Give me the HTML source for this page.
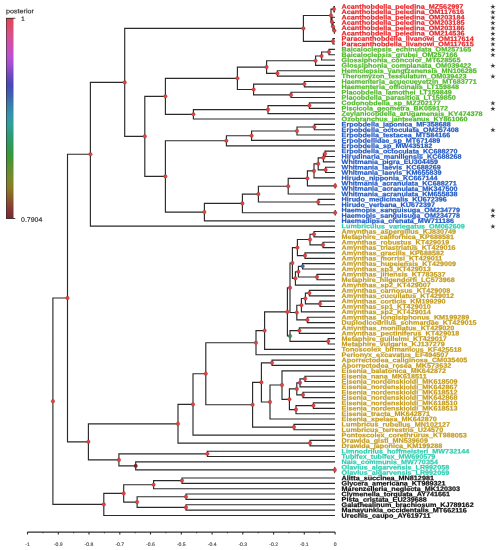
<!DOCTYPE html>
<html><head><meta charset="utf-8"><title>tree</title>
<style>
html,body{margin:0;padding:0;background:#fff}
svg{display:block;text-rendering:geometricPrecision}
.l{font-family:"Liberation Sans",Arial,Helvetica,sans-serif;font-weight:bold;font-size:6.5px;stroke-width:0.2}
.a{font-family:"Liberation Sans",Arial,Helvetica,sans-serif;font-size:5.1px;fill:#505050;stroke:#505050;stroke-width:0.15;text-anchor:middle}
.s{font-family:"DejaVu Sans",sans-serif;font-size:7px;fill:#3a3a3a;text-anchor:middle}
.t{font-family:"Liberation Sans",Arial,Helvetica,sans-serif;fill:#2a2a2a;stroke:#2a2a2a;stroke-width:0.15}
</style></head><body>
<svg width="500" height="550" viewBox="0 0 500 550">
<rect width="500" height="550" fill="#fff"/>
<defs><linearGradient id="lg" x1="0" y1="0" x2="0" y2="1">
<stop offset="0" stop-color="#e0464f"/><stop offset="0.01" stop-color="#e04858"/><stop offset="0.085" stop-color="#d8508c"/><stop offset="0.185" stop-color="#c050d0"/><stop offset="0.235" stop-color="#a050d0"/><stop offset="0.285" stop-color="#7048c0"/><stop offset="0.335" stop-color="#4848b8"/><stop offset="0.385" stop-color="#4060b0"/><stop offset="0.435" stop-color="#3880a8"/><stop offset="0.485" stop-color="#3494ac"/><stop offset="0.535" stop-color="#30a098"/><stop offset="0.585" stop-color="#309a78"/><stop offset="0.635" stop-color="#30985a"/><stop offset="0.685" stop-color="#389838"/><stop offset="0.735" stop-color="#5a9030"/><stop offset="0.8" stop-color="#7a8a2a"/><stop offset="0.85" stop-color="#8a7a28"/><stop offset="0.9" stop-color="#8a5a2a"/><stop offset="0.95" stop-color="#883838"/><stop offset="1" stop-color="#7a2830"/></linearGradient></defs>
<rect x="6.2" y="18" width="7.3" height="200.6" fill="url(#lg)"/>
<path d="M6.5 18V219" stroke="#000" stroke-opacity="0.55" stroke-width="0.9" fill="none"/>
<path d="M6 18.3H15.3M6 218.5H15.3" stroke="#2a2a2a" stroke-width="0.85" fill="none"/>
<g transform="translate(0 -0.2) skewY(0.03)">
<text class="t" transform="translate(6 13.35) scale(1.105 1)" font-size="6.5">posterior</text>
<text class="t" transform="translate(21 21.1) scale(1.1 1)" font-size="6.3">1</text>
<text class="t" transform="translate(21 221.9) scale(1.11 1)" font-size="6.3">0.7904</text>
</g>
<path d="M334.0 9.1V6.5H335.0M334.0 9.1V11.8H335.0M334.4 30.6V27.9H335.0M334.4 30.6V33.2H335.0M333.0 26.5V22.5H335.0M333.0 26.5V30.6H334.4M332.0 21.9V17.2H335.0M332.0 21.9V26.5H333.0M331.0 15.5V9.1H334.0M331.0 15.5V21.9H332.0M333.0 41.3V38.6H335.0M333.0 41.3V44.0H335.0M303.4 28.4V15.5H331.0M303.4 28.4V41.3H333.0M329.0 52.0V49.3H335.0M329.0 52.0V54.7H335.0M321.6 56.0V52.0H329.0M321.6 56.0V60.0H335.0M315.6 60.7V56.0H321.6M315.6 60.7V65.4H335.0M277.4 73.4V70.7H335.0M277.4 73.4V76.1H335.0M266.6 67.1V60.7H315.6M266.6 67.1V73.4H277.4M304.4 84.1V81.5H335.0M304.4 84.1V86.8H335.0M291.0 94.9V92.2H335.0M291.0 94.9V97.5H335.0M253.6 89.5V84.1H304.4M253.6 89.5V94.9H291.0M237.4 78.3V67.1H266.6M237.4 78.3V89.5H253.6M309.4 105.6V102.9H335.0M309.4 105.6V108.3H335.0M268.0 109.6V105.6H309.4M268.0 109.6V113.6H335.0M193.4 114.3V109.6H268.0M193.4 114.3V119.0H335.0M165.4 96.3V78.3H237.4M165.4 96.3V114.3H193.4M314.4 127.0V124.3H335.0M314.4 127.0V129.7H335.0M297.0 131.0V127.0H314.4M297.0 131.0V135.0H335.0M251.6 135.7V131.0H297.0M251.6 135.7V140.4H335.0M226.4 140.7V135.7H251.6M226.4 140.7V145.8H335.0M325.0 153.8V151.1H335.0M325.0 153.8V156.5H335.0M323.4 157.8V153.8H325.0M323.4 157.8V161.8H335.0M325.6 169.9V167.2H335.0M325.6 169.9V172.5H335.0M318.2 163.8V157.8H323.4M318.2 163.8V169.9H325.6M314.0 170.9V163.8H318.2M314.0 170.9V177.9H335.0M335.2 185.9V183.3M335.2 185.9V188.6M307.4 178.4V170.9H314.0M307.4 178.4V185.9H335.2M288.2 186.2V178.4H307.4M288.2 186.2V194.0H335.0M318.2 202.0V199.3H335.0M318.2 202.0V204.7H335.0M258.4 194.1V186.2H288.2M258.4 194.1V202.0H318.2M335.2 212.7V210.1M335.2 212.7V215.4M242.4 203.4V194.1H258.4M242.4 203.4V212.7H335.2M204.4 212.1V203.4H242.4M204.4 212.1V220.8H335.0M165.4 176.4V140.7H226.4M165.4 176.4V212.1H204.4M144.8 136.3V96.3H165.4M144.8 136.3V176.4H165.4M124.7 82.4V28.4H303.4M124.7 82.4V136.3H144.8M90.4 154.2V82.4H124.7M90.4 154.2V226.1H335.0M314.0 234.2V231.5H335.0M314.0 234.2V236.8H335.0M323.0 244.9V242.2H335.0M323.0 244.9V247.6H335.0M310.0 239.5V234.2H314.0M310.0 239.5V244.9H323.0M305.0 255.6V252.9H335.0M305.0 255.6V258.3H335.0M297.4 247.6V239.5H310.0M297.4 247.6V255.6H305.0M302.6 266.3V263.6H335.0M302.6 266.3V269.0H335.0M317.0 277.0V274.3H335.0M317.0 277.0V279.7H335.0M298.4 271.7V266.3H302.6M298.4 271.7V277.0H317.0M295.4 278.4V271.7H298.4M295.4 278.4V285.1H335.0M292.4 263.0V247.6H297.4M292.4 263.0V278.4H295.4M309.4 293.1V290.4H335.0M309.4 293.1V295.8H335.0M320.0 303.8V301.1H335.0M320.0 303.8V306.5H335.0M305.4 298.5V293.1H309.4M305.4 298.5V303.8H320.0M301.4 305.2V298.5H305.4M301.4 305.2V311.9H335.0M307.4 319.9V317.2H335.0M307.4 319.9V322.6H335.0M296.8 312.5V305.2H301.4M296.8 312.5V319.9H307.4M290.0 287.7V263.0H292.4M290.0 287.7V312.5H296.8M299.4 330.6V327.9H335.0M299.4 330.6V333.3H335.0M328.2 341.3V338.6H335.0M328.2 341.3V344.0H335.0M290.0 336.0V330.6H299.4M290.0 336.0V341.3H328.2M287.4 311.9V287.7H290.0M287.4 311.9V336.0H290.0M264.6 330.6V311.9H287.4M264.6 330.6V349.4H335.0M256.0 342.7V330.6H264.6M256.0 342.7V354.7H335.0M272.0 362.8V360.1H335.0M272.0 362.8V365.4H335.0M305.0 378.8V376.2H335.0M305.0 378.8V381.5H335.0M300.0 382.8V378.8H305.0M300.0 382.8V386.9H335.0M303.0 394.9V392.2H335.0M303.0 394.9V397.6H335.0M296.8 388.9V382.8H300.0M296.8 388.9V394.9H303.0M313.4 405.6V402.9H335.0M313.4 405.6V408.3H335.0M296.0 409.6V405.6H313.4M296.0 409.6V413.7H335.0M289.4 399.3V388.9H296.8M289.4 399.3V409.6H296.0M282.0 385.0V370.8H335.0M282.0 385.0V399.3H289.4M270.0 402.0V385.0H282.0M270.0 402.0V419.0H335.0M261.4 382.4V362.8H272.0M261.4 382.4V402.0H270.0M294.0 427.1V424.4H335.0M294.0 427.1V429.7H335.0M252.6 404.7V382.4H261.4M252.6 404.7V427.1H294.0M205.8 373.7V342.7H256.0M205.8 373.7V404.7H252.6M193.0 404.4V373.7H205.8M193.0 404.4V435.1H335.0M310.0 443.1V440.4H335.0M310.0 443.1V445.8H335.0M178.0 423.8V404.4H193.0M178.0 423.8V443.1H310.0M207.4 453.8V451.2H335.0M207.4 453.8V456.5H335.0M334.8 469.9V467.2H335.0M334.8 469.9V472.6H335.0M135.7 465.9V461.9H335.0M135.7 465.9V469.9H334.8M118.9 459.9V453.8H207.4M118.9 459.9V465.9H135.7M88.4 441.8V423.8H178.0M88.4 441.8V459.9H118.9M67.5 298.0V154.2H90.4M67.5 298.0V441.8H88.4M182.0 480.6V478.0H335.0M182.0 480.6V483.3H335.0M153.6 484.7V480.6H182.0M153.6 484.7V488.7H335.0M186.0 496.7V494.0H335.0M186.0 496.7V499.4H335.0M186.0 507.4V504.7H335.0M186.0 507.4V510.1H335.0M137.1 502.1V496.7H186.0M137.1 502.1V507.4H186.0M123.7 493.4V484.7H153.6M123.7 493.4V502.1H137.1M103.8 504.4V493.4H123.7M103.8 504.4V515.5H335.0M52.9 401.2V298.0H67.5M52.9 401.2V504.4H103.8" stroke="#2a2a2a" stroke-width="1.15" fill="none" stroke-linejoin="miter"/>
<circle cx="334.0" cy="9.1" r="1.8" fill="#e8413f" stroke="#7a2a2a" stroke-width="0.3"/><circle cx="334.4" cy="30.6" r="1.8" fill="#e8413f" stroke="#7a2a2a" stroke-width="0.3"/><circle cx="333.0" cy="26.5" r="1.8" fill="#e8413f" stroke="#7a2a2a" stroke-width="0.3"/><circle cx="332.0" cy="21.9" r="1.8" fill="#e8413f" stroke="#7a2a2a" stroke-width="0.3"/><circle cx="331.0" cy="15.5" r="1.8" fill="#e8413f" stroke="#7a2a2a" stroke-width="0.3"/><circle cx="333.0" cy="41.3" r="1.8" fill="#e8413f" stroke="#7a2a2a" stroke-width="0.3"/><circle cx="303.4" cy="28.4" r="1.8" fill="#e8413f" stroke="#7a2a2a" stroke-width="0.3"/><circle cx="329.0" cy="52.0" r="1.8" fill="#e8413f" stroke="#7a2a2a" stroke-width="0.3"/><circle cx="321.6" cy="56.0" r="1.8" fill="#e8413f" stroke="#7a2a2a" stroke-width="0.3"/><circle cx="315.6" cy="60.7" r="1.8" fill="#e8413f" stroke="#7a2a2a" stroke-width="0.3"/><circle cx="277.4" cy="73.4" r="1.8" fill="#e8413f" stroke="#7a2a2a" stroke-width="0.3"/><circle cx="266.6" cy="67.1" r="1.8" fill="#e8413f" stroke="#7a2a2a" stroke-width="0.3"/><circle cx="304.4" cy="84.1" r="1.8" fill="#e8413f" stroke="#7a2a2a" stroke-width="0.3"/><circle cx="291.0" cy="94.9" r="1.8" fill="#e8413f" stroke="#7a2a2a" stroke-width="0.3"/><circle cx="253.6" cy="89.5" r="1.8" fill="#e8413f" stroke="#7a2a2a" stroke-width="0.3"/><circle cx="237.4" cy="78.3" r="1.8" fill="#e8413f" stroke="#7a2a2a" stroke-width="0.3"/><circle cx="309.4" cy="105.6" r="1.8" fill="#e8413f" stroke="#7a2a2a" stroke-width="0.3"/><circle cx="268.0" cy="109.6" r="1.8" fill="#e8413f" stroke="#7a2a2a" stroke-width="0.3"/><circle cx="193.4" cy="114.3" r="1.8" fill="#e8413f" stroke="#7a2a2a" stroke-width="0.3"/><circle cx="165.4" cy="96.3" r="1.8" fill="#e8413f" stroke="#7a2a2a" stroke-width="0.3"/><circle cx="314.4" cy="127.0" r="1.8" fill="#e8413f" stroke="#7a2a2a" stroke-width="0.3"/><circle cx="297.0" cy="131.0" r="1.8" fill="#e8413f" stroke="#7a2a2a" stroke-width="0.3"/><circle cx="251.6" cy="135.7" r="1.8" fill="#e8413f" stroke="#7a2a2a" stroke-width="0.3"/><circle cx="226.4" cy="140.7" r="1.8" fill="#e8413f" stroke="#7a2a2a" stroke-width="0.3"/><circle cx="325.0" cy="153.8" r="1.8" fill="#e8413f" stroke="#7a2a2a" stroke-width="0.3"/><circle cx="323.4" cy="157.8" r="1.8" fill="#e8413f" stroke="#7a2a2a" stroke-width="0.3"/><circle cx="325.6" cy="169.9" r="1.8" fill="#e8413f" stroke="#7a2a2a" stroke-width="0.3"/><circle cx="318.2" cy="163.8" r="1.8" fill="#e8413f" stroke="#7a2a2a" stroke-width="0.3"/><circle cx="314.0" cy="170.9" r="1.8" fill="#e8413f" stroke="#7a2a2a" stroke-width="0.3"/><circle cx="335.2" cy="185.9" r="1.8" fill="#e8413f" stroke="#7a2a2a" stroke-width="0.3"/><circle cx="307.4" cy="178.4" r="1.8" fill="#e8413f" stroke="#7a2a2a" stroke-width="0.3"/><circle cx="288.2" cy="186.2" r="1.8" fill="#e8413f" stroke="#7a2a2a" stroke-width="0.3"/><circle cx="318.2" cy="202.0" r="1.8" fill="#e8413f" stroke="#7a2a2a" stroke-width="0.3"/><circle cx="258.4" cy="194.1" r="1.8" fill="#e8413f" stroke="#7a2a2a" stroke-width="0.3"/><circle cx="335.2" cy="212.7" r="1.8" fill="#e8413f" stroke="#7a2a2a" stroke-width="0.3"/><circle cx="242.4" cy="203.4" r="1.8" fill="#e8413f" stroke="#7a2a2a" stroke-width="0.3"/><circle cx="204.4" cy="212.1" r="1.8" fill="#e8502a" stroke="#7a2a2a" stroke-width="0.3"/><circle cx="165.4" cy="176.4" r="1.8" fill="#e8413f" stroke="#7a2a2a" stroke-width="0.3"/><circle cx="144.8" cy="136.3" r="1.8" fill="#e8413f" stroke="#7a2a2a" stroke-width="0.3"/><circle cx="124.7" cy="82.4" r="1.8" fill="#e8413f" stroke="#7a2a2a" stroke-width="0.3"/><circle cx="90.4" cy="154.2" r="1.8" fill="#e8413f" stroke="#7a2a2a" stroke-width="0.3"/><circle cx="314.0" cy="234.2" r="1.8" fill="#e8413f" stroke="#7a2a2a" stroke-width="0.3"/><circle cx="323.0" cy="244.9" r="1.8" fill="#e8413f" stroke="#7a2a2a" stroke-width="0.3"/><circle cx="310.0" cy="239.5" r="1.8" fill="#e8413f" stroke="#7a2a2a" stroke-width="0.3"/><circle cx="305.0" cy="255.6" r="1.8" fill="#e8413f" stroke="#7a2a2a" stroke-width="0.3"/><circle cx="297.4" cy="247.6" r="1.8" fill="#e8413f" stroke="#7a2a2a" stroke-width="0.3"/><circle cx="302.6" cy="266.3" r="1.8" fill="#2f73c4" stroke="#7a2a2a" stroke-width="0.3"/><circle cx="317.0" cy="277.0" r="1.8" fill="#e8413f" stroke="#7a2a2a" stroke-width="0.3"/><circle cx="298.4" cy="271.7" r="1.8" fill="#e8413f" stroke="#7a2a2a" stroke-width="0.3"/><circle cx="295.4" cy="278.4" r="1.8" fill="#e8413f" stroke="#7a2a2a" stroke-width="0.3"/><circle cx="292.4" cy="263.0" r="1.8" fill="#e8413f" stroke="#7a2a2a" stroke-width="0.3"/><circle cx="309.4" cy="293.1" r="1.8" fill="#e8413f" stroke="#7a2a2a" stroke-width="0.3"/><circle cx="320.0" cy="303.8" r="1.8" fill="#e8413f" stroke="#7a2a2a" stroke-width="0.3"/><circle cx="305.4" cy="298.5" r="1.8" fill="#e8413f" stroke="#7a2a2a" stroke-width="0.3"/><circle cx="301.4" cy="305.2" r="1.8" fill="#e8413f" stroke="#7a2a2a" stroke-width="0.3"/><circle cx="307.4" cy="319.9" r="1.8" fill="#e8413f" stroke="#7a2a2a" stroke-width="0.3"/><circle cx="296.8" cy="312.5" r="1.8" fill="#e8413f" stroke="#7a2a2a" stroke-width="0.3"/><circle cx="290.0" cy="287.7" r="1.8" fill="#e8365f" stroke="#7a2a2a" stroke-width="0.3"/><circle cx="299.4" cy="330.6" r="1.8" fill="#e8413f" stroke="#7a2a2a" stroke-width="0.3"/><circle cx="328.2" cy="341.3" r="1.8" fill="#e8413f" stroke="#7a2a2a" stroke-width="0.3"/><circle cx="290.0" cy="336.0" r="1.8" fill="#1f9a5e" stroke="#7a2a2a" stroke-width="0.3"/><circle cx="287.4" cy="311.9" r="1.8" fill="#e8413f" stroke="#7a2a2a" stroke-width="0.3"/><circle cx="264.6" cy="330.6" r="1.8" fill="#e8413f" stroke="#7a2a2a" stroke-width="0.3"/><circle cx="256.0" cy="342.7" r="1.8" fill="#e8413f" stroke="#7a2a2a" stroke-width="0.3"/><circle cx="272.0" cy="362.8" r="1.8" fill="#e8413f" stroke="#7a2a2a" stroke-width="0.3"/><circle cx="305.0" cy="378.8" r="1.8" fill="#e8413f" stroke="#7a2a2a" stroke-width="0.3"/><circle cx="300.0" cy="382.8" r="1.8" fill="#d9376f" stroke="#7a2a2a" stroke-width="0.3"/><circle cx="303.0" cy="394.9" r="1.8" fill="#e8413f" stroke="#7a2a2a" stroke-width="0.3"/><circle cx="296.8" cy="388.9" r="1.8" fill="#e8413f" stroke="#7a2a2a" stroke-width="0.3"/><circle cx="313.4" cy="405.6" r="1.8" fill="#e8413f" stroke="#7a2a2a" stroke-width="0.3"/><circle cx="296.0" cy="409.6" r="1.8" fill="#e8413f" stroke="#7a2a2a" stroke-width="0.3"/><circle cx="289.4" cy="399.3" r="1.8" fill="#e8413f" stroke="#7a2a2a" stroke-width="0.3"/><circle cx="282.0" cy="385.0" r="1.8" fill="#e8413f" stroke="#7a2a2a" stroke-width="0.3"/><circle cx="270.0" cy="402.0" r="1.8" fill="#e8413f" stroke="#7a2a2a" stroke-width="0.3"/><circle cx="261.4" cy="382.4" r="1.8" fill="#e8413f" stroke="#7a2a2a" stroke-width="0.3"/><circle cx="294.0" cy="427.1" r="1.8" fill="#e8413f" stroke="#7a2a2a" stroke-width="0.3"/><circle cx="252.6" cy="404.7" r="1.8" fill="#e8413f" stroke="#7a2a2a" stroke-width="0.3"/><circle cx="205.8" cy="373.7" r="1.8" fill="#e8413f" stroke="#7a2a2a" stroke-width="0.3"/><circle cx="193.0" cy="404.4" r="1.8" fill="#e8413f" stroke="#7a2a2a" stroke-width="0.3"/><circle cx="310.0" cy="443.1" r="1.8" fill="#e8413f" stroke="#7a2a2a" stroke-width="0.3"/><circle cx="178.0" cy="423.8" r="1.8" fill="#e8413f" stroke="#7a2a2a" stroke-width="0.3"/><circle cx="207.4" cy="453.8" r="1.8" fill="#e8413f" stroke="#7a2a2a" stroke-width="0.3"/><circle cx="334.8" cy="469.9" r="1.8" fill="#e8413f" stroke="#7a2a2a" stroke-width="0.3"/><circle cx="135.7" cy="465.9" r="1.8" fill="#7a1f26" stroke="#7a2a2a" stroke-width="0.3"/><circle cx="118.9" cy="459.9" r="1.8" fill="#e8413f" stroke="#7a2a2a" stroke-width="0.3"/><circle cx="88.4" cy="441.8" r="1.8" fill="#e8413f" stroke="#7a2a2a" stroke-width="0.3"/><circle cx="67.5" cy="298.0" r="1.8" fill="#e8413f" stroke="#7a2a2a" stroke-width="0.3"/><circle cx="182.0" cy="480.6" r="1.8" fill="#e8413f" stroke="#7a2a2a" stroke-width="0.3"/><circle cx="153.6" cy="484.7" r="1.8" fill="#e8413f" stroke="#7a2a2a" stroke-width="0.3"/><circle cx="186.0" cy="496.7" r="1.8" fill="#e8413f" stroke="#7a2a2a" stroke-width="0.3"/><circle cx="186.0" cy="507.4" r="1.8" fill="#e8413f" stroke="#7a2a2a" stroke-width="0.3"/><circle cx="137.1" cy="502.1" r="1.8" fill="#e8413f" stroke="#7a2a2a" stroke-width="0.3"/><circle cx="123.7" cy="493.4" r="1.8" fill="#e8413f" stroke="#7a2a2a" stroke-width="0.3"/><circle cx="103.8" cy="504.4" r="1.8" fill="#e8413f" stroke="#7a2a2a" stroke-width="0.3"/><circle cx="52.9" cy="401.2" r="1.8" fill="#e8413f" stroke="#7a2a2a" stroke-width="0.3"/>
<g transform="translate(0 -0.2) skewY(0.03)">
<text class="l" transform="translate(341.6 8.70) scale(1.111 1)" fill="#e8262a" stroke="#e8262a">Acanthobdella_peledina_MZ562997</text>
<text class="l" transform="translate(341.6 14.06) scale(1.111 1)" fill="#e8262a" stroke="#e8262a">Acanthobdella_peledina_OM117616</text>
<text class="l" transform="translate(341.6 19.42) scale(1.111 1)" fill="#e8262a" stroke="#e8262a">Acanthobdella_peledina_OM203184</text>
<text class="l" transform="translate(341.6 24.77) scale(1.111 1)" fill="#e8262a" stroke="#e8262a">Acanthobdella_peledina_OM203185</text>
<text class="l" transform="translate(341.6 30.13) scale(1.111 1)" fill="#e8262a" stroke="#e8262a">Acanthobdella_peledina_OM203186</text>
<text class="l" transform="translate(341.6 35.49) scale(1.111 1)" fill="#e8262a" stroke="#e8262a">Acanthobdella_peledina_OM214536</text>
<text class="l" transform="translate(341.6 40.85) scale(1.111 1)" fill="#e8262a" stroke="#e8262a">Paracanthobdella_livanowi_OM117614</text>
<text class="l" transform="translate(341.6 46.21) scale(1.111 1)" fill="#e8262a" stroke="#e8262a">Paracanthobdella_livanowi_OM117615</text>
<text class="l" transform="translate(341.6 51.56) scale(1.111 1)" fill="#50b92a" stroke="#50b92a">Baicaloclepsis_echinulata_OM257165</text>
<text class="l" transform="translate(341.6 56.92) scale(1.111 1)" fill="#50b92a" stroke="#50b92a">Baicaloclepsis_grubei_OM257166</text>
<text class="l" transform="translate(341.6 62.28) scale(1.111 1)" fill="#50b92a" stroke="#50b92a">Glossiphonia_concolor_MT628565</text>
<text class="l" transform="translate(341.6 67.64) scale(1.111 1)" fill="#50b92a" stroke="#50b92a">Glossiphonia_complanata_OM039422</text>
<text class="l" transform="translate(341.6 73.00) scale(1.111 1)" fill="#50b92a" stroke="#50b92a">Hemiclepsis_yangtzenensis_MN106285</text>
<text class="l" transform="translate(341.6 78.35) scale(1.111 1)" fill="#50b92a" stroke="#50b92a">Theromyzon_tessulatum_OM039423</text>
<text class="l" transform="translate(341.6 83.71) scale(1.111 1)" fill="#50b92a" stroke="#50b92a">Haementeria_acuecueyetzin_MT683771</text>
<text class="l" transform="translate(341.6 89.07) scale(1.111 1)" fill="#50b92a" stroke="#50b92a">Haementeria_officinalis_LT159848</text>
<text class="l" transform="translate(341.6 94.43) scale(1.111 1)" fill="#50b92a" stroke="#50b92a">Placobdella_lamothei_LT159849</text>
<text class="l" transform="translate(341.6 99.79) scale(1.111 1)" fill="#50b92a" stroke="#50b92a">Placobdella_parasitica_LT159850</text>
<text class="l" transform="translate(341.6 105.14) scale(1.111 1)" fill="#50b92a" stroke="#50b92a">Codonobdella_sp_MZ202177</text>
<text class="l" transform="translate(341.6 110.50) scale(1.111 1)" fill="#50b92a" stroke="#50b92a">Piscicola_geometra_BK059172</text>
<text class="l" transform="translate(341.6 115.86) scale(1.111 1)" fill="#50b92a" stroke="#50b92a">Zeylanicobdella_arugamensis_KY474378</text>
<text class="l" transform="translate(341.6 121.22) scale(1.111 1)" fill="#50b92a" stroke="#50b92a">Ozobranchus_jantseanus_KY861060</text>
<text class="l" transform="translate(341.6 126.58) scale(1.111 1)" fill="#2259c4" stroke="#2259c4">Erpobdella_japonica_MF358688</text>
<text class="l" transform="translate(341.6 131.93) scale(1.111 1)" fill="#2259c4" stroke="#2259c4">Erpobdella_octoculata_OM257408</text>
<text class="l" transform="translate(341.6 137.29) scale(1.111 1)" fill="#2259c4" stroke="#2259c4">Erpobdella_testacea_MT584166</text>
<text class="l" transform="translate(341.6 142.65) scale(1.111 1)" fill="#2259c4" stroke="#2259c4">Erpobdellidae_sp_MT671489</text>
<text class="l" transform="translate(341.6 148.01) scale(1.111 1)" fill="#2259c4" stroke="#2259c4">Erpobdella_sp_MW435182</text>
<text class="l" transform="translate(341.6 153.37) scale(1.111 1)" fill="#2259c4" stroke="#2259c4">Erpobdella_octoculata_KC688270</text>
<text class="l" transform="translate(341.6 158.72) scale(1.111 1)" fill="#2259c4" stroke="#2259c4">Hirudinaria_manillensis_KC688268</text>
<text class="l" transform="translate(341.6 164.08) scale(1.111 1)" fill="#2259c4" stroke="#2259c4">Whitmania_pigra_EU304459</text>
<text class="l" transform="translate(341.6 169.44) scale(1.111 1)" fill="#2259c4" stroke="#2259c4">Whitmania_laevis_KC688269</text>
<text class="l" transform="translate(341.6 174.80) scale(1.111 1)" fill="#2259c4" stroke="#2259c4">Whitmania_laevis_KM655839</text>
<text class="l" transform="translate(341.6 180.16) scale(1.111 1)" fill="#2259c4" stroke="#2259c4">Hirudo_nipponia_KC667144</text>
<text class="l" transform="translate(341.6 185.51) scale(1.111 1)" fill="#2259c4" stroke="#2259c4">Whitmania_acranulata_KC688271</text>
<text class="l" transform="translate(341.6 190.87) scale(1.111 1)" fill="#2259c4" stroke="#2259c4">Whitmania_acranulata_MK347500</text>
<text class="l" transform="translate(341.6 196.23) scale(1.111 1)" fill="#2259c4" stroke="#2259c4">Whitmania_acranulata_KM655838</text>
<text class="l" transform="translate(341.6 201.59) scale(1.111 1)" fill="#2259c4" stroke="#2259c4">Hirudo_medicinalis_KU672396</text>
<text class="l" transform="translate(341.6 206.95) scale(1.111 1)" fill="#2259c4" stroke="#2259c4">Hirudo_verbana_KU672397</text>
<text class="l" transform="translate(341.6 212.30) scale(1.111 1)" fill="#2259c4" stroke="#2259c4">Haemopis_sanguisuga_OM234779</text>
<text class="l" transform="translate(341.6 217.66) scale(1.111 1)" fill="#2259c4" stroke="#2259c4">Haemopis_sanguisuga_OM234778</text>
<text class="l" transform="translate(341.6 223.02) scale(1.111 1)" fill="#2259c4" stroke="#2259c4">Haemadipsa_crenata_MW711186</text>
<text class="l" transform="translate(341.6 228.38) scale(1.111 1)" fill="#2fcdb0" stroke="#2fcdb0">Lumbriculus_variegatus_OM062609</text>
<text class="l" transform="translate(341.6 233.74) scale(1.111 1)" fill="#c59c1e" stroke="#c59c1e">Amynthas_aspergillus_KJ830749</text>
<text class="l" transform="translate(341.6 239.09) scale(1.111 1)" fill="#c59c1e" stroke="#c59c1e">Metaphire_californica_KP688581</text>
<text class="l" transform="translate(341.6 244.45) scale(1.111 1)" fill="#c59c1e" stroke="#c59c1e">Amynthas_robustus_KT429019</text>
<text class="l" transform="translate(341.6 249.81) scale(1.111 1)" fill="#c59c1e" stroke="#c59c1e">Amynthas_triastriatus_KT429016</text>
<text class="l" transform="translate(341.6 255.17) scale(1.111 1)" fill="#c59c1e" stroke="#c59c1e">Amynthas_gracilis_KP688582</text>
<text class="l" transform="translate(341.6 260.53) scale(1.111 1)" fill="#c59c1e" stroke="#c59c1e">Amynthas_morrisi_KT429011</text>
<text class="l" transform="translate(341.6 265.88) scale(1.111 1)" fill="#c59c1e" stroke="#c59c1e">Amynthas_hupeiensis_KT429009</text>
<text class="l" transform="translate(341.6 271.24) scale(1.111 1)" fill="#c59c1e" stroke="#c59c1e">Amynthas_sp3_KT429013</text>
<text class="l" transform="translate(341.6 276.60) scale(1.111 1)" fill="#c59c1e" stroke="#c59c1e">Amynthas_jiriensis_KT783537</text>
<text class="l" transform="translate(341.6 281.96) scale(1.111 1)" fill="#c59c1e" stroke="#c59c1e">Metaphire_hilgendorfi_LC573968</text>
<text class="l" transform="translate(341.6 287.32) scale(1.111 1)" fill="#c59c1e" stroke="#c59c1e">Amynthas_sp2_KT429007</text>
<text class="l" transform="translate(341.6 292.67) scale(1.111 1)" fill="#c59c1e" stroke="#c59c1e">Amynthas_carnosus_KT429008</text>
<text class="l" transform="translate(341.6 298.03) scale(1.111 1)" fill="#c59c1e" stroke="#c59c1e">Amynthas_cucullatus_KT429012</text>
<text class="l" transform="translate(341.6 303.39) scale(1.111 1)" fill="#c59c1e" stroke="#c59c1e">Amynthas_corticis_KM199290</text>
<text class="l" transform="translate(341.6 308.75) scale(1.111 1)" fill="#c59c1e" stroke="#c59c1e">Amynthas_sp1_KT429010</text>
<text class="l" transform="translate(341.6 314.11) scale(1.111 1)" fill="#c59c1e" stroke="#c59c1e">Amynthas_sp2_KT429014</text>
<text class="l" transform="translate(341.6 319.46) scale(1.111 1)" fill="#c59c1e" stroke="#c59c1e">Amynthas_longisiphonus_KM199289</text>
<text class="l" transform="translate(341.6 324.82) scale(1.111 1)" fill="#c59c1e" stroke="#c59c1e">Duplodicodrilus_schmardae_KT429015</text>
<text class="l" transform="translate(341.6 330.18) scale(1.111 1)" fill="#c59c1e" stroke="#c59c1e">Amynthas_moniliatus_KT429020</text>
<text class="l" transform="translate(341.6 335.54) scale(1.111 1)" fill="#c59c1e" stroke="#c59c1e">Amynthas_pectiniferus_KT429018</text>
<text class="l" transform="translate(341.6 340.90) scale(1.111 1)" fill="#c59c1e" stroke="#c59c1e">Metaphire_guillelmi_KT429017</text>
<text class="l" transform="translate(341.6 346.25) scale(1.111 1)" fill="#c59c1e" stroke="#c59c1e">Metaphire_vulgaris_KJ137279</text>
<text class="l" transform="translate(341.6 351.61) scale(1.111 1)" fill="#c59c1e" stroke="#c59c1e">Tonoscolex_birmanicus_KF425518</text>
<text class="l" transform="translate(341.6 356.97) scale(1.111 1)" fill="#c59c1e" stroke="#c59c1e">Perionyx_excavatus_EF494507</text>
<text class="l" transform="translate(341.6 362.33) scale(1.111 1)" fill="#c59c1e" stroke="#c59c1e">Aporrectodea_caliginosa_CM035405</text>
<text class="l" transform="translate(341.6 367.69) scale(1.111 1)" fill="#c59c1e" stroke="#c59c1e">Aporrectodea_rosea_MK573632</text>
<text class="l" transform="translate(341.6 373.04) scale(1.111 1)" fill="#c59c1e" stroke="#c59c1e">Eisenia_balatonica_MK642872</text>
<text class="l" transform="translate(341.6 378.40) scale(1.111 1)" fill="#c59c1e" stroke="#c59c1e">Eisenia_nana_MK618511</text>
<text class="l" transform="translate(341.6 383.76) scale(1.111 1)" fill="#c59c1e" stroke="#c59c1e">Eisenia_nordenskioldi_MK618509</text>
<text class="l" transform="translate(341.6 389.12) scale(1.111 1)" fill="#c59c1e" stroke="#c59c1e">Eisenia_nordenskioldi_MK642867</text>
<text class="l" transform="translate(341.6 394.48) scale(1.111 1)" fill="#c59c1e" stroke="#c59c1e">Eisenia_nordenskioldi_MK618512</text>
<text class="l" transform="translate(341.6 399.83) scale(1.111 1)" fill="#c59c1e" stroke="#c59c1e">Eisenia_nordenskioldi_MK642868</text>
<text class="l" transform="translate(341.6 405.19) scale(1.111 1)" fill="#c59c1e" stroke="#c59c1e">Eisenia_nordenskioldi_MK618510</text>
<text class="l" transform="translate(341.6 410.55) scale(1.111 1)" fill="#c59c1e" stroke="#c59c1e">Eisenia_nordenskioldi_MK618513</text>
<text class="l" transform="translate(341.6 415.91) scale(1.111 1)" fill="#c59c1e" stroke="#c59c1e">Eisenia_tracta_MK642871</text>
<text class="l" transform="translate(341.6 421.27) scale(1.111 1)" fill="#c59c1e" stroke="#c59c1e">Eisenia_spelaea_MK642870</text>
<text class="l" transform="translate(341.6 426.62) scale(1.111 1)" fill="#c59c1e" stroke="#c59c1e">Lumbricus_rubellus_MN102127</text>
<text class="l" transform="translate(341.6 431.98) scale(1.111 1)" fill="#c59c1e" stroke="#c59c1e">Lumbricus_terrestris_U24570</text>
<text class="l" transform="translate(341.6 437.34) scale(1.111 1)" fill="#c59c1e" stroke="#c59c1e">Pontoscolex_corethrurus_KT988053</text>
<text class="l" transform="translate(341.6 442.70) scale(1.111 1)" fill="#c59c1e" stroke="#c59c1e">Drawida_gisti_MN539609</text>
<text class="l" transform="translate(341.6 448.06) scale(1.111 1)" fill="#c59c1e" stroke="#c59c1e">Drawida_japonica_KM199288</text>
<text class="l" transform="translate(341.6 453.41) scale(1.111 1)" fill="#2fcdb0" stroke="#2fcdb0">Limnodrilus_hoffmeisteri_MW732144</text>
<text class="l" transform="translate(341.6 458.77) scale(1.111 1)" fill="#2fcdb0" stroke="#2fcdb0">Tubifex_tubifex_MW690579</text>
<text class="l" transform="translate(341.6 464.13) scale(1.111 1)" fill="#2fcdb0" stroke="#2fcdb0">Nais_communis_MW770354</text>
<text class="l" transform="translate(341.6 469.49) scale(1.111 1)" fill="#2fcdb0" stroke="#2fcdb0">Olavius_algarvensis_LR992058</text>
<text class="l" transform="translate(341.6 474.85) scale(1.111 1)" fill="#2fcdb0" stroke="#2fcdb0">Olavius_algarvensis_LR992059</text>
<text class="l" transform="translate(341.6 480.20) scale(1.111 1)" fill="#111111" stroke="#111111">Alitta_succinea_MN812981</text>
<text class="l" transform="translate(341.6 485.56) scale(1.111 1)" fill="#111111" stroke="#111111">Glycera_americana_KT989321</text>
<text class="l" transform="translate(341.6 490.92) scale(1.111 1)" fill="#111111" stroke="#111111">Marenzelleria_neglecta_MK120303</text>
<text class="l" transform="translate(341.6 496.28) scale(1.111 1)" fill="#111111" stroke="#111111">Clymenella_torquata_AY741661</text>
<text class="l" transform="translate(341.6 501.64) scale(1.111 1)" fill="#111111" stroke="#111111">Pista_cristata_EU239688</text>
<text class="l" transform="translate(341.6 506.99) scale(1.111 1)" fill="#111111" stroke="#111111">Galathealinum_brachiosum_KJ789162</text>
<text class="l" transform="translate(341.6 512.35) scale(1.111 1)" fill="#111111" stroke="#111111">Manayunkia_occidentalis_MT662116</text>
<text class="l" transform="translate(341.6 517.71) scale(1.111 1)" fill="#111111" stroke="#111111">Urechis_caupo_AY619711</text>
<text class="s" x="492.8" y="9.05">★</text><text class="s" x="492.8" y="14.41">★</text><text class="s" x="492.8" y="19.77">★</text><text class="s" x="492.8" y="25.12">★</text><text class="s" x="492.8" y="30.48">★</text><text class="s" x="492.8" y="35.84">★</text><text class="s" x="492.8" y="41.20">★</text><text class="s" x="492.8" y="46.56">★</text><text class="s" x="492.8" y="51.91">★</text><text class="s" x="492.8" y="57.27">★</text><text class="s" x="492.8" y="67.99">★</text><text class="s" x="492.8" y="78.70">★</text><text class="s" x="492.8" y="105.49">★</text><text class="s" x="492.8" y="110.85">★</text><text class="s" x="492.8" y="132.28">★</text><text class="s" x="492.8" y="212.65">★</text><text class="s" x="492.8" y="218.01">★</text><text class="s" x="492.8" y="228.73">★</text></g>
<path d="M27.5 532.1H335.1M27.5 532.1v2.4M42.9 532.1v1.2M58.3 532.1v2.4M73.6 532.1v1.2M89.0 532.1v2.4M104.4 532.1v1.2M119.8 532.1v2.4M135.2 532.1v1.2M150.5 532.1v2.4M165.9 532.1v1.2M181.3 532.1v2.4M196.7 532.1v1.2M212.1 532.1v2.4M227.4 532.1v1.2M242.8 532.1v2.4M258.2 532.1v1.2M273.6 532.1v2.4M289.0 532.1v1.2M304.3 532.1v2.4M319.7 532.1v1.2M335.1 532.1v2.4" stroke="#2e2e2e" stroke-width="1.1" fill="none"/>
<text class="a" x="27.5" y="546.2">-1</text><text class="a" x="58.3" y="546.2">-0.9</text><text class="a" x="89.0" y="546.2">-0.8</text><text class="a" x="119.8" y="546.2">-0.7</text><text class="a" x="150.5" y="546.2">-0.6</text><text class="a" x="181.3" y="546.2">-0.5</text><text class="a" x="212.1" y="546.2">-0.4</text><text class="a" x="242.8" y="546.2">-0.3</text><text class="a" x="273.6" y="546.2">-0.2</text><text class="a" x="304.3" y="546.2">-0.1</text><text class="a" x="335.1" y="546.2">0</text>
</svg>
</body></html>
